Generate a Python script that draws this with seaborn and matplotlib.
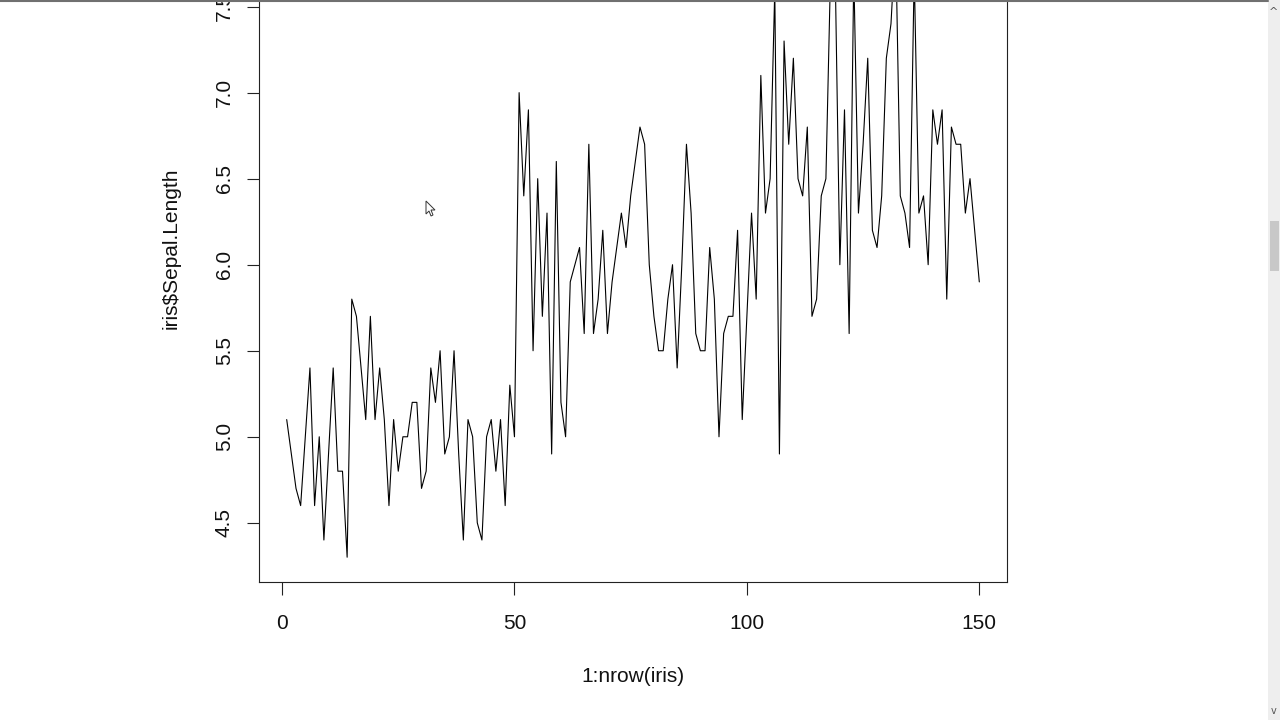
import numpy as np
import pandas as pd
import matplotlib
matplotlib.use("Agg")
import matplotlib.pyplot as plt
import seaborn as sns
from matplotlib.patches import Rectangle, Polygon
from matplotlib.lines import Line2D

# iris$Sepal.Length (rows 1..150)
setosa = [5.1, 4.9, 4.7, 4.6, 5.0, 5.4, 4.6, 5.0, 4.4, 4.9, 5.4, 4.8, 4.8, 4.3, 5.8,
          5.7, 5.4, 5.1, 5.7, 5.1, 5.4, 5.1, 4.6, 5.1, 4.8, 5.0, 5.0, 5.2, 5.2, 4.7,
          4.8, 5.4, 5.2, 5.5, 4.9, 5.0, 5.5, 4.9, 4.4, 5.1, 5.0, 4.5, 4.4, 5.0, 5.1,
          4.8, 5.1, 4.6, 5.3, 5.0]
versicolor = [7.0, 6.4, 6.9, 5.5, 6.5, 5.7, 6.3, 4.9, 6.6, 5.2, 5.0, 5.9, 6.0, 6.1, 5.6,
              6.7, 5.6, 5.8, 6.2, 5.6, 5.9, 6.1, 6.3, 6.1, 6.4, 6.6, 6.8, 6.7, 6.0, 5.7,
              5.5, 5.5, 5.8, 6.0, 5.4, 6.0, 6.7, 6.3, 5.6, 5.5, 5.5, 6.1, 5.8, 5.0, 5.6,
              5.7, 5.7, 6.2, 5.1, 5.7]
virginica = [6.3, 5.8, 7.1, 6.3, 6.5, 7.6, 4.9, 7.3, 6.7, 7.2, 6.5, 6.4, 6.8, 5.7, 5.8,
             6.4, 6.5, 7.7, 7.7, 6.0, 6.9, 5.6, 7.7, 6.3, 6.7, 7.2, 6.2, 6.1, 6.4, 7.2,
             7.4, 7.9, 6.4, 6.3, 6.1, 7.7, 6.3, 6.4, 6.0, 6.9, 6.7, 6.9, 5.8, 6.8, 6.7,
             6.7, 6.3, 6.5, 6.2, 5.9]
sepal_length = setosa + versicolor + virginica
row_index = list(range(1, len(sepal_length) + 1))

x_ticks = [0, 50, 100, 150]
y_ticks = [4.5, 5.0, 5.5, 6.0, 6.5, 7.0, 7.5]
x_label = "1:nrow(iris)"
y_label = "iris$Sepal.Length"

df = pd.DataFrame({"row": row_index, "sepal": sepal_length})

sns.set_style("white")
plt.rcParams["font.family"] = ["Liberation Sans", "DejaVu Sans"]

W, H = 1280, 720
fig = plt.figure(figsize=(12.8, 7.2), dpi=100)
fig.patch.set_facecolor("white")

ax = fig.add_axes([259 / W, 138 / H, 748 / W, 669 / H])
sns.lineplot(data=df, x="row", y="sepal", ax=ax, color="black", linewidth=0.8,
             estimator=None, sort=False)

ymin, ymax = min(sepal_length), max(sepal_length)
xr = (max(row_index) - min(row_index)) * 0.04
yr = (ymax - ymin) * 0.04
ax.set_xlim(min(row_index) - xr, max(row_index) + xr)
ax.set_ylim(ymin - yr, ymax + yr)

ax.set_xticks(x_ticks)
ax.set_xticklabels([str(v) for v in x_ticks])
ax.set_yticks(y_ticks)
ax.set_yticklabels([f"{v:.1f}" for v in y_ticks], rotation=90, va="center")

for s in ax.spines.values():
    s.set_visible(True)
    s.set_color("#222222")
    s.set_linewidth(0.8)

ax.tick_params(axis="both", direction="out", length=9, width=0.8, color="#222222",
               labelsize=15, labelcolor="#111111")
ax.tick_params(axis="x", pad=14, bottom=True)
ax.tick_params(axis="y", pad=9, left=True)

ax.set_xlabel(x_label, fontsize=15, color="#111111")
ax.set_ylabel(y_label, fontsize=15, color="#111111")
ax.xaxis.set_label_coords(0.5, (582 - 677) / 669, transform=ax.transAxes)
ax.yaxis.set_label_coords((171 - 259) / 748, (582 - 248) / 669, transform=ax.transAxes)
ax.xaxis.label.set_va("center")
ax.yaxis.label.set_va("center")
ax.grid(False)

# browser chrome: top border line and scrollbar
fig.add_artist(Line2D([0, 1268 / W], [1 - 0.5 / H, 1 - 0.5 / H], color="#707070",
                      linewidth=1.5, transform=fig.transFigure))
fig.add_artist(Rectangle((1268 / W, 0), 12 / W, 1, facecolor="#eeeeee",
                         edgecolor="none", transform=fig.transFigure))
fig.add_artist(Rectangle((1270 / W, 1 - 271 / H), 9 / W, 50 / H, facecolor="#c8c8c8",
                         edgecolor="none", transform=fig.transFigure))
fig.text(1274 / W, 1 - 12 / H, "^", fontsize=8, ha="center", va="center",
         color="#555555", family=["DejaVu Sans"])
fig.text(1274 / W, 1 - 711 / H, "v", fontsize=7, ha="center", va="center",
         color="#555555", family=["DejaVu Sans"])

# mouse pointer
cur = np.array([[426, 201], [426, 214], [429, 211], [431, 216], [433, 215],
                [431, 210], [435, 210]], dtype=float)
cur_fig = np.column_stack([cur[:, 0] / W, 1 - cur[:, 1] / H])
fig.add_artist(Polygon(cur_fig, closed=True, facecolor="white", edgecolor="#333333",
                       linewidth=0.7, transform=fig.transFigure))

fig.savefig("out.png", dpi=100)
